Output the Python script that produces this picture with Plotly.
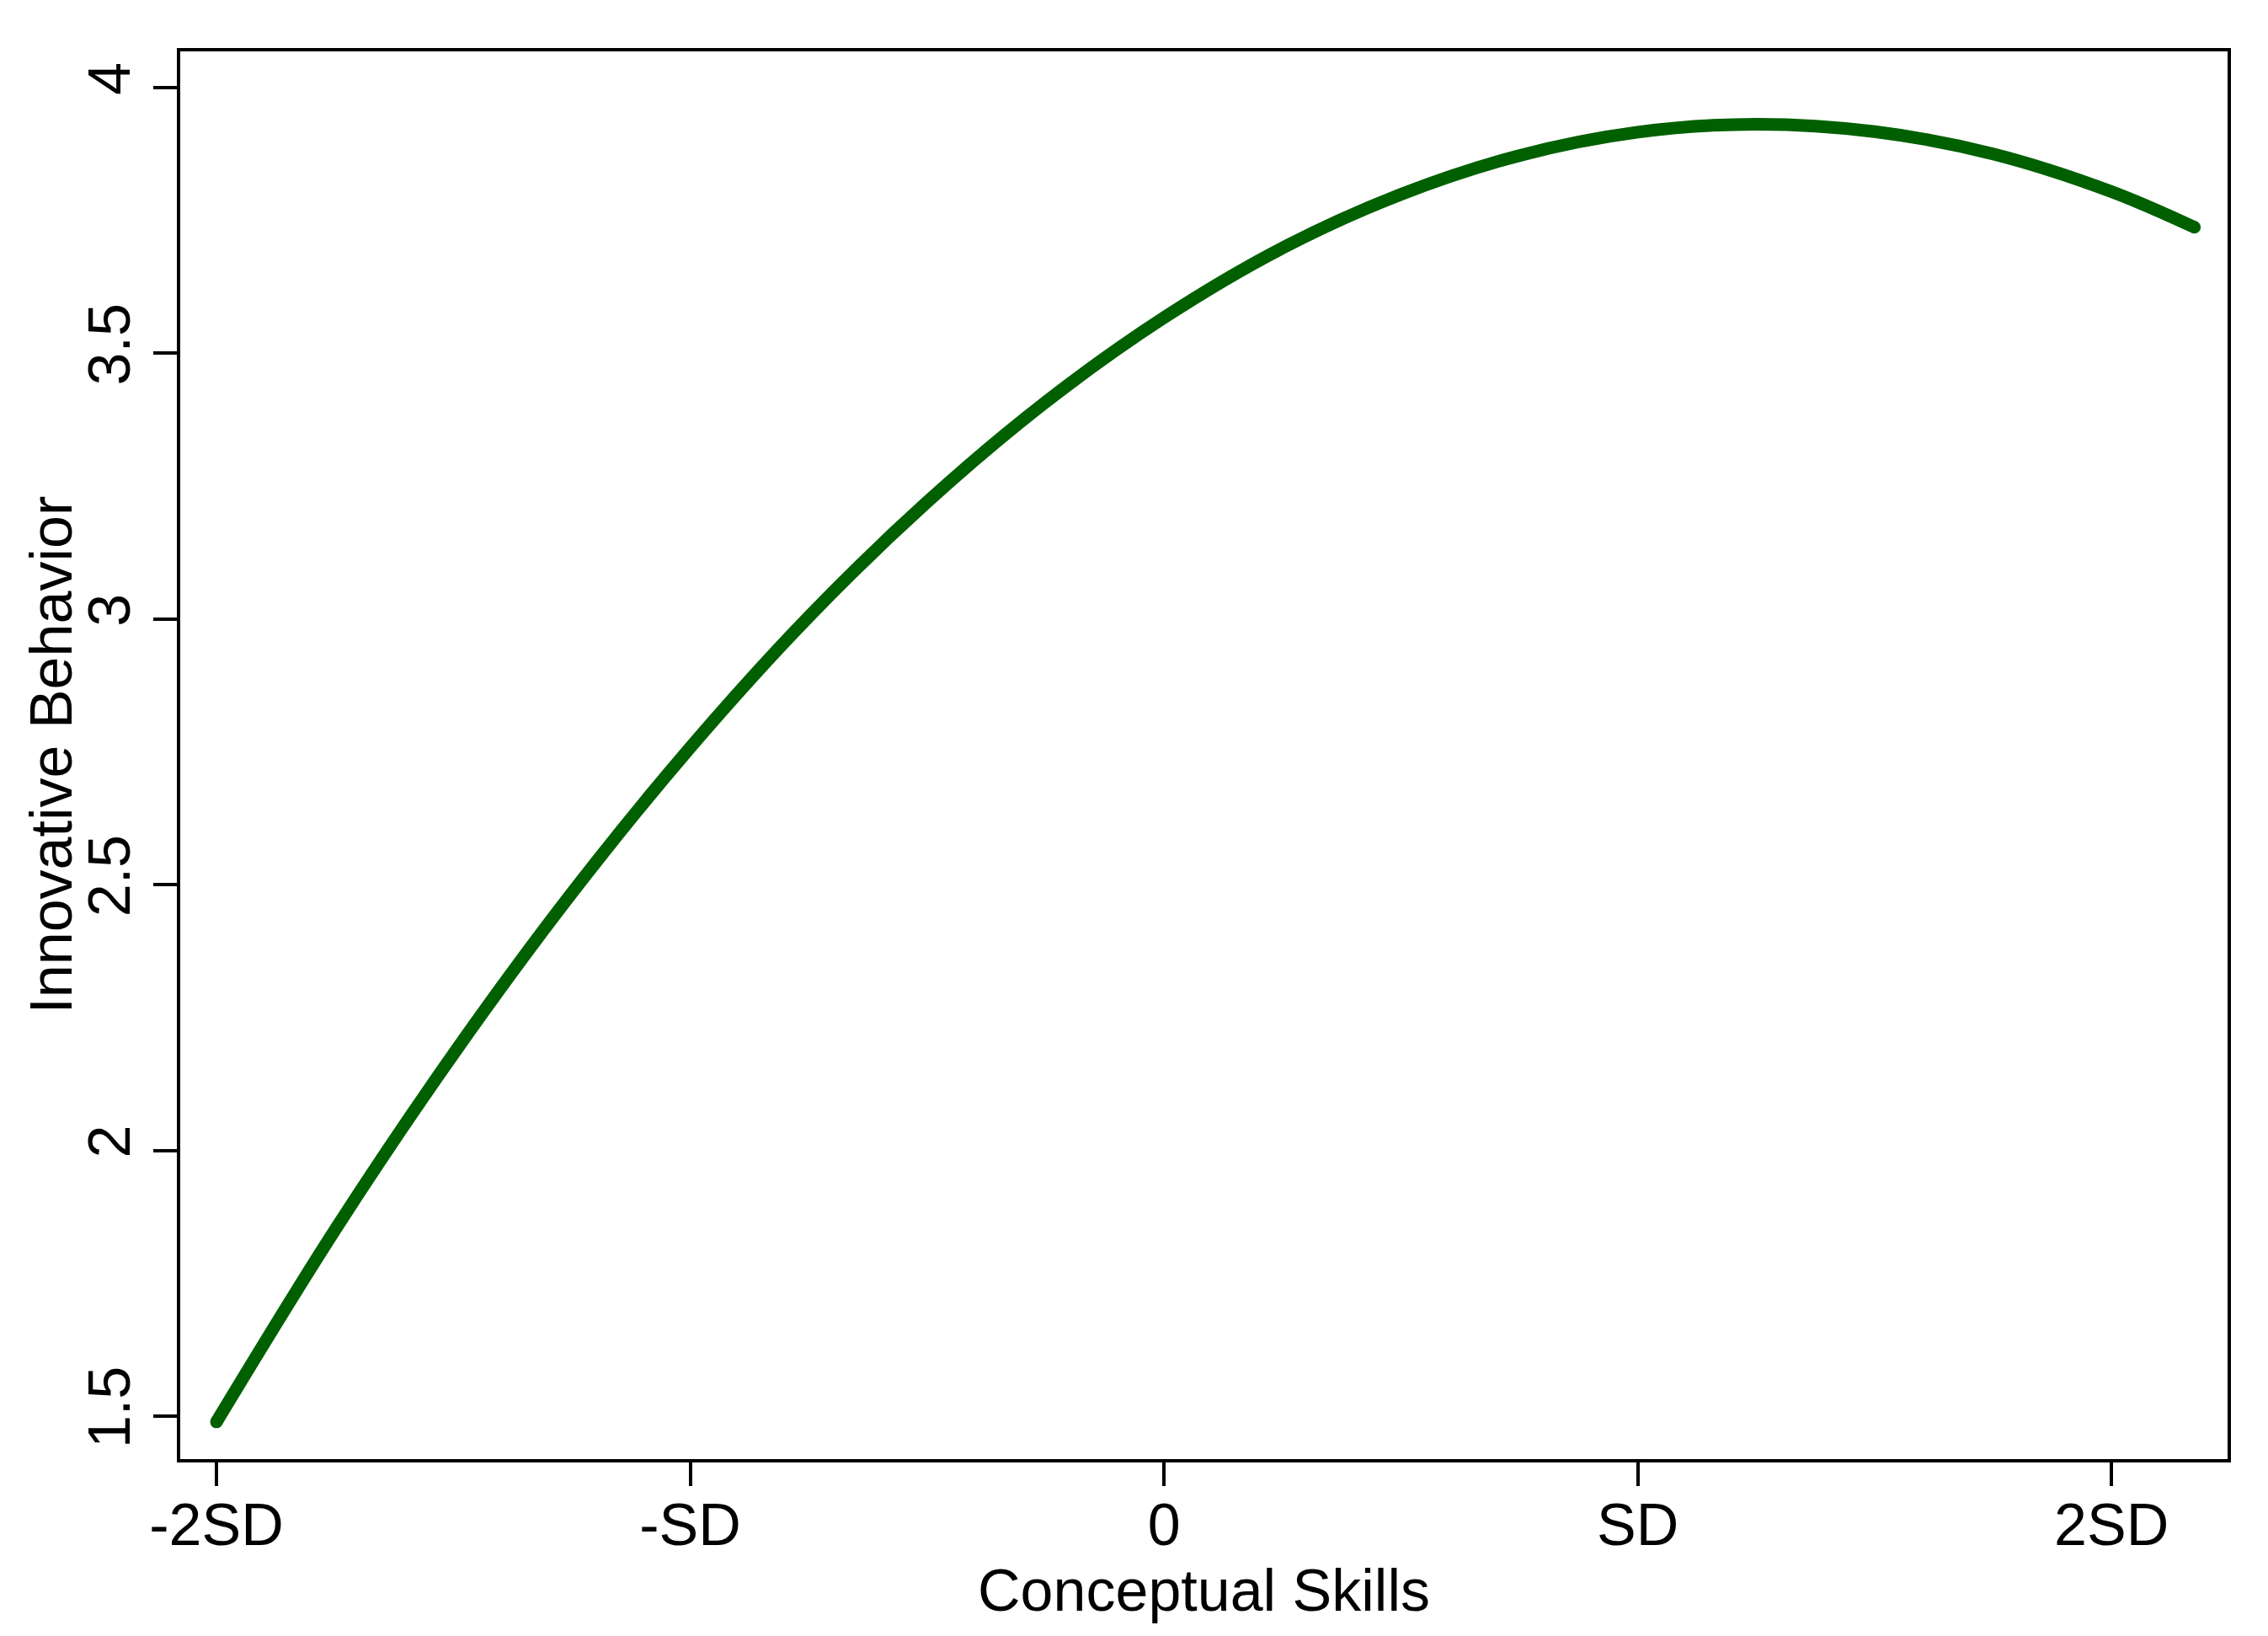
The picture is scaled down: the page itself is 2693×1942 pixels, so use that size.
import plotly.graph_objects as go

# Conceptual Skills (in SD units) and predicted Innovative Behavior
skills = [-2.00, -1.75, -1.50, -1.25, -1.00, -0.75, -0.50, -0.25, 0.00,
          0.25, 0.50, 0.75, 1.00, 1.25, 1.50, 1.75, 2.00, 2.175]
behavior = [1.489, 1.850, 2.181, 2.484, 2.758, 3.004, 3.220, 3.408, 3.567,
            3.698, 3.799, 3.872, 3.916, 3.931, 3.917, 3.875, 3.804, 3.737]

x_tickvals = [-2, -1, 0, 1, 2]
x_ticktext = ["-2SD", "-SD", "0", "SD", "2SD"]
y_tickvals = [1.5, 2, 2.5, 3, 3.5, 4]
y_ticktext = ["1.5", "2", "2.5", "3", "3.5", "4"]

x_title = "Conceptual Skills"
y_title = "Innovative Behavior"

line_color = "#006000"
font_family = "Liberation Sans, Arial, sans-serif"
title_font = dict(family=font_family, size=70, color="black")

fig = go.Figure()
fig.add_trace(go.Scatter(
    x=skills, y=behavior, mode="lines",
    line=dict(color=line_color, width=15, shape="spline"),
    showlegend=False, hoverinfo="skip",
))
fig.add_trace(go.Scatter(
    x=[skills[0], skills[-1]], y=[behavior[0], behavior[-1]], mode="markers",
    marker=dict(color=line_color, size=15, line=dict(width=0)),
    showlegend=False, hoverinfo="skip",
))

axis_common = dict(
    showline=True, linecolor="black", linewidth=4, mirror=True,
    ticks="outside", ticklen=28, tickwidth=4, tickcolor="black",
    showgrid=False, zeroline=False,
    tickfont=dict(family=font_family, size=70, color="black"),
    automargin=False,
)

# page body has an 8px default margin, so the figure is sized to fit the window
fig.update_layout(
    width=2685, height=1934,
    paper_bgcolor="white", plot_bgcolor="white",
    margin=dict(l=206, r=48, t=53, b=210),
    font=dict(family=font_family, size=70, color="black"),
    xaxis=dict(
        range=[-2.0765, 2.245],
        tickmode="array", tickvals=x_tickvals, ticktext=x_ticktext,
        ticklabelstandoff=-14,
        title=dict(text=x_title, font=title_font, standoff=0),
        **axis_common,
    ),
    yaxis=dict(
        range=[1.419, 4.068],
        tickmode="array", tickvals=y_tickvals, ticktext=y_ticktext,
        tickangle=-90,
        **axis_common,
    ),
    annotations=[dict(
        text=y_title, font=title_font, textangle=-90,
        xref="paper", yref="paper", x=-0.0633, y=0.5,
        xanchor="center", yanchor="middle", showarrow=False,
    )],
)

fig.write_html("out.html")
